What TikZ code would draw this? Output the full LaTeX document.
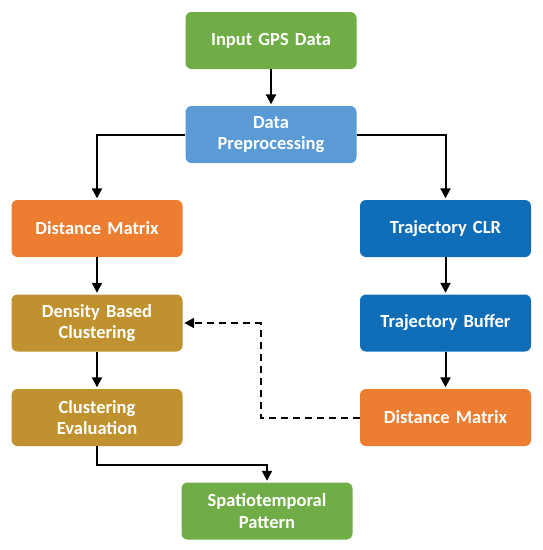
\documentclass[tikz,border=0pt]{standalone}
\usepackage{fontspec}
\setmainfont{Carlito}
\usepackage{tikz}
\usetikzlibrary{positioning}
\usetikzlibrary{arrows.meta}

\definecolor{stepgreen}{HTML}{70AD47}
\definecolor{steplightblue}{HTML}{5B9BD5}
\definecolor{steporange}{HTML}{ED7D31}
\definecolor{stepblue}{HTML}{106EB8}
\definecolor{stepgold}{HTML}{BF912F}

\begin{document}
\begin{tikzpicture}[x=1pt,y=-1pt,every node/.style={rounded corners=6pt,minimum width=171pt,minimum height=57pt,text width=165pt,align=center,text=white,inner sep=0pt,font=\fontsize{18.5}{21.5}\selectfont\bfseries},
    flow/.style={line width=2pt,-{Triangle[length=10pt,width=10pt]},shorten >=1.5pt}]
    \useasboundingbox (0,0) rectangle (542,550);

    \node (gps)[fill=stepgreen] at (271, 40.5) {Input GPS Data};
    \node (prep)[fill=steplightblue] at (271, 134.5) {Data \\ Preprocessing};
    \node (distleft)[fill=steporange] at (97, 228.5) {Distance Matrix};
    \node (clr)[fill=stepblue] at (445.5, 228.5) {Trajectory CLR};
    \node (density)[fill=stepgold] at (97, 323) {Density Based \\ Clustering};
    \node (buffer)[fill=stepblue] at (445.5, 323) {Trajectory Buffer};
    \node (evaluation)[fill=stepgold] at (97, 417.5) {Clustering \\ Evaluation};
    \node (distright)[fill=steporange] at (445.5, 417.5) {Distance Matrix};
    \node (pattern)[fill=stepgreen] at (267, 511) {Spatiotemporal \\ Pattern};

    \path [flow] (gps) edge (prep);
    \draw [flow] (prep.west) -| (distleft);
    \draw [flow] (prep.east) -| (clr);
    \path [flow] (distleft) edge (density);
    \path [flow] (density) edge (evaluation);
    \path [flow] (clr) edge (buffer);
    \path [flow] (buffer) edge (distright);
    \draw [flow] (evaluation.south) -- ++(0, 18.5) -| (pattern.north);
    \draw [flow,dash pattern=on 7pt off 5pt] (distright.west) -- ++(-99, 0) |- (density.east);
\end{tikzpicture}
\end{document}
